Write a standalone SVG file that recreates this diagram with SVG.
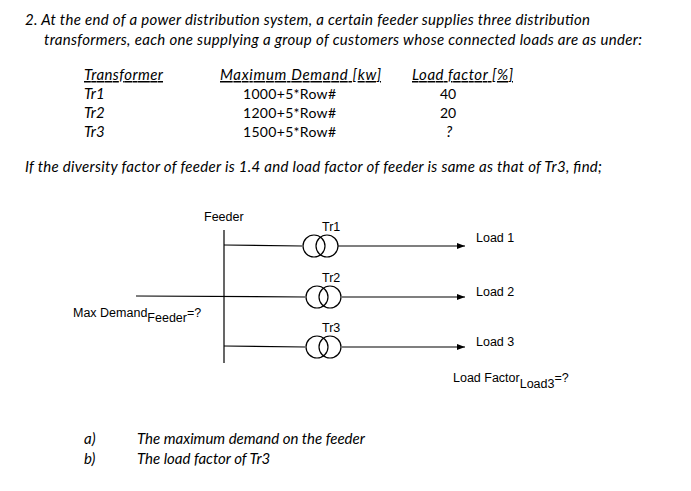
<svg xmlns="http://www.w3.org/2000/svg" width="691" height="491" viewBox="0 0 691 491">
<style>
.t{font-family:Lato,"Open Sans",sans-serif;font-style:italic;font-size:15px;fill:#000}
.n{font-family:Lato,"Open Sans",sans-serif;font-size:14px;fill:#000}
.d{font-family:"Liberation Sans",Arial,sans-serif;font-size:12.5px;fill:#000}
.w{stroke:#000;stroke-width:1.2;fill:none}
</style>
<defs><marker id="a" markerWidth="8" markerHeight="6" refX="8" refY="3" orient="auto" markerUnits="userSpaceOnUse"><path d="M0,0L8,3L0,6z" fill="#000"/></marker></defs>
<rect width="691" height="491" fill="#fff"/>
<text class="t" x="25" y="25" textLength="565">2. At the end of a power distribution system, a certain feeder supplies three distribution</text>
<text class="t" x="44" y="45" textLength="598">transformers, each one supplying a group of customers whose connected loads are as under:</text>
<text class="t" x="84" y="80" text-decoration="underline" textLength="79">Transformer</text>
<text class="t" x="220" y="80" text-decoration="underline" textLength="161">Maximum Demand [kw]</text>
<text class="t" x="412" y="80" text-decoration="underline" textLength="101">Load factor [%]</text>
<text class="t" x="84" y="99">Tr1</text><text class="t" x="84" y="118">Tr2</text><text class="t" x="84" y="137">Tr3</text>
<text class="n" x="243" y="99" textLength="93">1000+5*Row#</text>
<text class="n" x="243" y="118" textLength="93">1200+5*Row#</text>
<text class="n" x="243" y="137" textLength="93">1500+5*Row#</text>
<text class="n" x="440" y="99">40</text><text class="n" x="440" y="118">20</text><text class="t" x="446" y="137">?</text>
<text class="t" x="25" y="172" textLength="577">If the diversity factor of feeder is 1.4 and load factor of feeder is same as that of Tr3, find;</text>
<g id="connectors">
<line class="w" x1="224" y1="230" x2="224" y2="363"/>
<line class="w" x1="224" y1="245" x2="302" y2="246"/>
<line class="w" x1="136" y1="296" x2="305" y2="297"/>
<line class="w" x1="224" y1="346" x2="305" y2="347"/>
<line class="w" x1="338" y1="246" x2="465" y2="246" marker-end="url(#a)"/>
<line class="w" x1="342" y1="297" x2="465" y2="297" marker-end="url(#a)"/>
<line class="w" x1="342" y1="347" x2="465" y2="347" marker-end="url(#a)"/>
</g>
<g id="feeder"><text class="d" x="204" y="221">Feeder</text></g>
<g id="tr1"><circle class="w" cx="314" cy="246" r="11"/><circle class="w" cx="327" cy="246" r="11"/><text class="d" x="322" y="231">Tr1</text></g>
<g id="tr2"><circle class="w" cx="317" cy="297" r="11"/><circle class="w" cx="330" cy="297" r="11"/><text class="d" x="322" y="282">Tr2</text></g>
<g id="tr3"><circle class="w" cx="317" cy="347" r="11"/><circle class="w" cx="330" cy="347" r="11"/><text class="d" x="322" y="332">Tr3</text></g>
<g id="load1"><text class="d" x="476" y="242">Load 1</text></g>
<g id="load2"><text class="d" x="476" y="296">Load 2</text></g>
<g id="load3"><text class="d" x="476" y="346">Load 3</text></g>
<g id="maxdemand"><text class="d" x="73" y="317">Max Demand<tspan dy="5">Feeder</tspan><tspan dy="-5">=?</tspan></text></g>
<g id="lf3"><text class="d" x="453" y="382">Load Factor<tspan dy="6">Load3</tspan><tspan dy="-6">=?</tspan></text></g>
<text class="t" x="84" y="444">a)</text><text class="t" x="84" y="464">b)</text>
<text class="t" x="137" y="444">The maximum demand on the feeder</text>
<text class="t" x="137" y="464">The load factor of Tr3</text>
</svg>
